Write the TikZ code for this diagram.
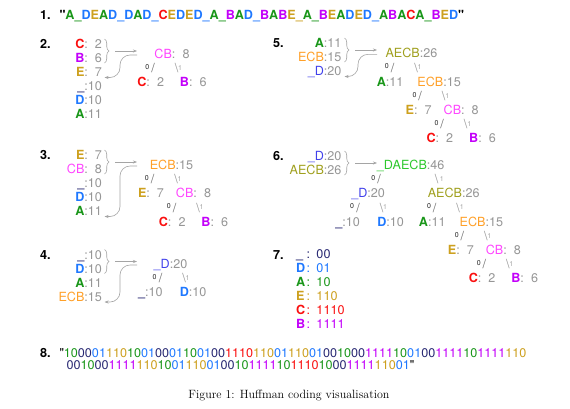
\documentclass[tikz,border=0pt]{standalone}
\usepackage{fontspec}
\newfontfamily\hv{TeX Gyre Heros}
\usetikzlibrary{arrows.meta,decorations.pathreplacing}
\definecolor{cA}{RGB}{25,150,25}
\definecolor{cD}{RGB}{30,120,255}
\definecolor{cE}{RGB}{205,160,30}
\definecolor{cC}{RGB}{250,15,15}
\definecolor{cB}{RGB}{195,0,250}
\definecolor{cU}{RGB}{40,40,115}
\definecolor{cCB}{RGB}{255,70,255}
\definecolor{cECB}{RGB}{255,160,40}
\definecolor{cUD}{RGB}{65,65,235}
\definecolor{cAECB}{RGB}{160,160,30}
\definecolor{cUDAECB}{RGB}{45,200,45}
\definecolor{cnum}{RGB}{150,150,150}
\definecolor{cline}{RGB}{165,165,165}

\newcommand\pz{\phantom{0}}
\newcommand\leaf[3]{\textbf{\color{#1}#2}\textcolor{cnum}{:#3}}
\newcommand\comb[3]{\textcolor{#1}{#2}\textcolor{cnum}{:#3}}
\newcommand\qC{\leaf{cC}{C}{\pz2}}
\newcommand\qB{\leaf{cB}{B}{\pz6}}
\newcommand\qE{\leaf{cE}{E}{\pz7}}
\newcommand\qU{\leaf{cU}{\_}{10}}
\newcommand\qD{\leaf{cD}{D}{10}}
\newcommand\qA{\leaf{cA}{A}{11}}
\newcommand\qCB{\comb{cCB}{CB}{\pz8}}
\newcommand\qECB{\comb{cECB}{ECB}{15}}
\newcommand\qUD{\comb{cUD}{\_D}{20}}
\newcommand\qAECB{\comb{cAECB}{AECB}{26}}
\newcommand\qUDAECB{\comb{cUDAECB}{\_DAECB}{46}}

\newcommand\gA{\textcolor{cA}{A}}
\newcommand\gD{\textcolor{cD}{D}}
\newcommand\gE{\textcolor{cE}{E}}
\newcommand\gC{\textcolor{cC}{C}}
\newcommand\gB{\textcolor{cB}{B}}
\newcommand\gu[1]{\textcolor{#1}{\_}}

\newcommand\zA{\textcolor{cA}{10}}
\newcommand\zU{\textcolor{cU}{00}}
\newcommand\zD{\textcolor{cD}{01}}
\newcommand\zE{\textcolor{cE}{110}}
\newcommand\zC{\textcolor{cC}{1110}}
\newcommand\zB{\textcolor{cB}{1111}}

\newcommand\tnd[4]{\node[tn] (#1) at (#2,{#3+4.5}) {#4};}
\newcommand\lnd[4]{\node[ln] (#1) at (#2,{#3+4.5}) {#4};}
\newcommand\elab[7]{%
  \node[lz] (#1z) at ({#2+(#4)},{#3+13}) {0};
  \node[lsl] (#1s) at ({#2+(#5)},{#3+14.5}) {/};
  \node[lbs] (#1k) at ({#2+(#6)},{#3+14.5}) {\textbackslash};
  \node[lo] (#1o) at ({#2+(#7)},{#3+14}) {1};}
\newcommand\stdlab[3]{\elab{#1}{#2}{#3}{-24.7}{-19}{4.5}{8}}
\newcommand\udlab[3]{\elab{#1}{#2}{#3}{-16}{-10}{13.5}{17}}
\newcommand\crow[5]{\node[txt,anchor=base west] (#1) at (296,{#2+4.5})
  {\color{#3}\makebox[10.5pt][l]{\textbf{#4}}:\hspace{6.5pt}#5};}

\begin{document}
\begin{tikzpicture}[x=1pt,y=-1pt,
  txt/.style={inner sep=0pt,outer sep=0pt,font=\hv\fontsize{12.6}{15}\selectfont},
  tn/.style={txt,anchor=base},
  ln/.style={txt,anchor=base east},
  sec/.style={txt,anchor=base west,font=\hv\fontsize{12.6}{15}\selectfont\bfseries},
  lz/.style={inner sep=0pt,font=\hv\fontsize{7}{8}\selectfont,text=black!85},
  lo/.style={inner sep=0pt,font=\hv\fontsize{7}{8}\selectfont,text=black!35},
  lsl/.style={txt,text=black!55},
  lbs/.style={txt,text=black!40},
  brc/.style={draw=cline,line width=0.6pt,decorate,decoration={brace,amplitude=4.5pt}},
  fwd/.style={draw=cline,line width=0.6pt,-{Stealth[length=4pt,width=3pt]}},
  bck/.style={fwd,rounded corners=10pt}]
\fill[white] (0,0) rectangle (570,408);
\useasboundingbox (0,0) rectangle (570,408);

% ---- 1
\node[sec] (n1) at (40,19.5) {1.};
\node[txt,anchor=base west,font=\hv\fontsize{12.6}{15}\selectfont\bfseries] (str) at (59.5,19.5)
 {"\gA\gu{cA}\gD\gE\gA\gD\gu{cD}\gD\gA\gD\gu{cD}\gC\gE\gD\gE\gD\gu{cD}\gA\gu{cA}\gB\gA\gD\gu{cD}\gB\gA\gB\gE\gu{cE}\gA\gu{cA}\gB\gE\gA\gD\gE\gD\gu{cD}\gA\gB\gA\gC\gA\gu{cA}\gB\gE\gD"};

% ---- 2
\node[sec] (n2) at (40,48.5) {2.};
\lnd{s2a}{102}{44}{\qC}
\lnd{s2b}{102}{58}{\qB}
\lnd{s2c}{102}{72}{\qE}
\lnd{s2d}{102}{86}{\qU}
\lnd{s2e}{102}{100}{\qD}
\lnd{s2f}{102}{114}{\qA}
\coordinate (s2bt) at (104.5,39); \coordinate (s2bb) at (104.5,63);
\draw[brc] (s2bt) -- (s2bb);
\coordinate (s2fa) at (115,51); \coordinate (s2fb) at (137,51);
\draw[fwd] (s2fa) -- (s2fb);
\coordinate (s2ra) at (137,55); \coordinate (s2rt) at (104.5,77.5);
\draw[bck] (s2ra) -- ++(-17,0) |- (s2rt);
\tnd{s2r}{172}{54}{\qCB}
\stdlab{s2r}{172}{54}
\tnd{s2r0}{150.7}{82.3}{\qC}
\tnd{s2r1}{193.3}{82.3}{\qB}

% ---- 3
\node[sec] (n3) at (40,159.5) {3.};
\lnd{s3a}{102}{155}{\qE}
\lnd{s3b}{102}{169}{\qCB}
\lnd{s3c}{102}{183}{\qU}
\lnd{s3d}{102}{197}{\qD}
\lnd{s3e}{102}{211}{\qA}
\coordinate (s3bt) at (104.5,150); \coordinate (s3bb) at (104.5,174);
\draw[brc] (s3bt) -- (s3bb);
\coordinate (s3fa) at (115,162); \coordinate (s3fb) at (137,162);
\draw[fwd] (s3fa) -- (s3fb);
\coordinate (s3ra) at (137,166); \coordinate (s3rt) at (104.5,216.5);
\draw[bck] (s3ra) -- ++(-17,0) |- (s3rt);
\tnd{s3r}{171.5}{165}{\qECB}
\stdlab{s3r}{171.5}{165}
\tnd{s3r0}{151}{193.3}{\qE}
\tnd{s3r1}{193.5}{193.3}{\qCB}
\stdlab{s3r1}{193.5}{193.3}
\tnd{s3r10}{172.2}{221.6}{\qC}
\tnd{s3r11}{214.8}{221.6}{\qB}

% ---- 4
\node[sec] (n4) at (40,259.5) {4.};
\lnd{s4a}{102}{254.5}{\qU}
\lnd{s4b}{102}{268.5}{\qD}
\lnd{s4c}{102}{282.5}{\qA}
\lnd{s4d}{102}{296.5}{\qECB}
\coordinate (s4bt) at (104.5,249.5); \coordinate (s4bb) at (104.5,273.5);
\draw[brc] (s4bt) -- (s4bb);
\coordinate (s4fa) at (115,261.5); \coordinate (s4fb) at (137,261.5);
\draw[fwd] (s4fa) -- (s4fb);
\coordinate (s4ra) at (137,265); \coordinate (s4rt) at (104.5,302);
\draw[bck] (s4ra) -- ++(-17,0) |- (s4rt);
\tnd{s4r}{170.5}{264}{\qUD}
\udlab{s4r}{170.5}{264}
\tnd{s4r0}{150.3}{292.3}{\qU}
\tnd{s4r1}{193.1}{292.3}{\qD}

% ---- 5
\node[sec] (n5) at (273,47.5) {5.};
\lnd{s5a}{341.5}{43}{\qA}
\lnd{s5b}{341.5}{57}{\qECB}
\lnd{s5c}{341.5}{71}{\qUD}
\coordinate (s5bt) at (344.5,38); \coordinate (s5bb) at (344.5,62);
\draw[brc] (s5bt) -- (s5bb);
\coordinate (s5fa) at (355,50); \coordinate (s5fb) at (377,50);
\draw[fwd] (s5fa) -- (s5fb);
\coordinate (s5ra) at (377,54.3); \coordinate (s5rt) at (344.5,76.5);
\draw[bck] (s5ra) -- ++(-19,0) |- (s5rt);
\tnd{s5r}{411.5}{53.3}{\qAECB}
\stdlab{s5r}{411.5}{53.3}
\tnd{s5r0}{390.1}{81.6}{\qA}
\tnd{s5r1}{439.2}{81.6}{\qECB}
\stdlab{s5r1}{439.2}{81.6}
\tnd{s5r10}{418.7}{109.9}{\qE}
\tnd{s5r11}{461.2}{109.9}{\qCB}
\stdlab{s5r11}{461.2}{109.9}
\tnd{s5r110}{439.9}{138.2}{\qC}
\tnd{s5r111}{482.5}{138.2}{\qB}

% ---- 6
\node[sec] (n6) at (273,160.5) {6.};
\lnd{s6a}{341.5}{156}{\qUD}
\lnd{s6b}{341.5}{170}{\qAECB}
\coordinate (s6bt) at (344.5,151); \coordinate (s6bb) at (344.5,175);
\draw[brc] (s6bt) -- (s6bb);
\coordinate (s6fa) at (355,163); \coordinate (s6fb) at (377,163);
\draw[fwd] (s6fa) -- (s6fb);
\tnd{s6r}{410.7}{165}{\qUDAECB}
\elab{s6r}{410.7}{165}{-37.4}{-31.7}{26}{31}
\tnd{s6r0}{368.1}{193.3}{\qUD}
\udlab{s6r0}{368.1}{193.3}
\tnd{s6r1}{453.7}{193.3}{\qAECB}
\stdlab{s6r1}{453.7}{193.3}
\tnd{s6r00}{347.6}{221.6}{\qU}
\tnd{s6r01}{390.6}{221.6}{\qD}
\tnd{s6r10}{432.3}{221.6}{\qA}
\tnd{s6r11}{481.4}{221.6}{\qECB}
\stdlab{s6r11}{481.4}{221.6}
\tnd{s6r110}{460.9}{249.9}{\qE}
\tnd{s6r111}{503.4}{249.9}{\qCB}
\stdlab{s6r111}{503.4}{249.9}
\tnd{s6r1110}{482.1}{278.2}{\qC}
\tnd{s6r1111}{524.7}{278.2}{\qB}

% ---- 7
\node[sec] (n7) at (273,259.5) {7.};
\crow{c1}{254}{cU}{\_}{00}
\crow{c2}{268}{cD}{D}{01}
\crow{c3}{282}{cA}{A}{10}
\crow{c4}{296}{cE}{E}{110}
\crow{c5}{310}{cC}{C}{1110}
\crow{c6}{324}{cB}{B}{1111}

% ---- 8
\node[sec] (n8) at (40,357) {8.};
\node[txt,anchor=base west] (l1) at (59.5,357)
 {"\zA\zU\zD\zE\zA\zD\zU\zD\zA\zD\zU\zC\zE\zD\zE\zD\zU\zA\zU\zB\zA\zD\zU\zB\zA\zB\zE};
\node[txt,anchor=base west] (l2) at (66.5,369.7)
 {\zU\zA\zU\zB\zE\zA\zD\zE\zD\zU\zA\zB\zA\zC\zA\zU\zB\zE\zD"};

% ---- caption
\node[inner sep=0pt,anchor=base,font=\fontsize{12}{14}\selectfont] (cap) at (289,398)
 {Figure 1: Huffman coding visualisation};
\end{tikzpicture}
\end{document}
